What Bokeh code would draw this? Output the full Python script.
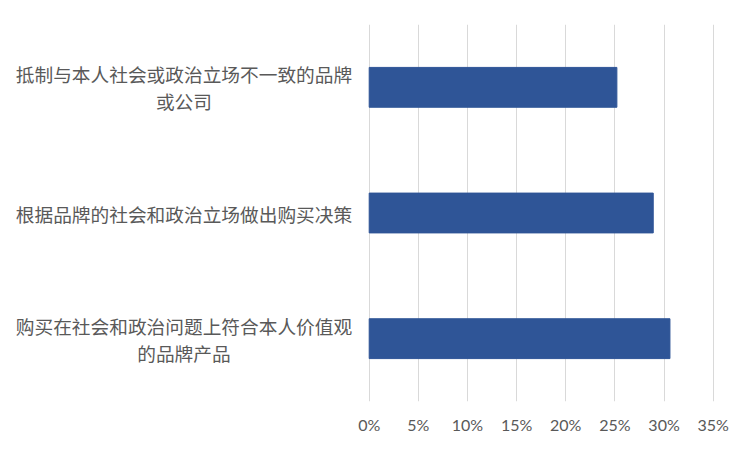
from bokeh.plotting import figure
from bokeh.models import Range1d, FactorRange, FixedTicker, NumeralTickFormatter
from bokeh.core.properties import value
from bokeh.embed import file_html
from bokeh.resources import INLINE

categories = ["抵制与本人社会或政治立场不一致的品牌\n或公司",
              "根据品牌的社会和政治立场做出购买决策",
              "购买在社会和政治问题上符合本人价值观\n的品牌产品"]
values = [0.252, 0.289, 0.306]
x_ticks = [0, 0.05, 0.10, 0.15, 0.20, 0.25, 0.30, 0.35]

# frame spans the full width; the left part (negative x) holds the category labels
p = figure(width=736, height=436, output_backend="svg", toolbar_location=None,
           y_range=FactorRange(factors=list(reversed(categories))),
           x_range=Range1d(-0.37513, 0.35743),
           min_border_left=0, min_border_right=16, min_border_top=24, min_border_bottom=34)

p.hbar(y=categories, right=values, left=0, height=0.317, color="#2F5597")

p.text(x=[-0.18845] * len(categories), y=categories, text=categories,
       text_align="center", text_baseline="middle",
       text_font=value("Noto Sans CJK SC"), text_font_size="18.7px",
       text_color="#595959", text_line_height=1.0)

p.outline_line_color = None
p.background_fill_color = "white"
p.border_fill_color = "white"

p.ygrid.grid_line_color = None
p.yaxis.visible = False
p.xgrid.grid_line_color = "#D9D9D9"
p.xgrid.grid_line_width = 1
p.xaxis.ticker = FixedTicker(ticks=x_ticks)
p.xaxis.formatter = NumeralTickFormatter(format="0%")
p.xaxis.axis_line_color = None
p.xaxis.major_tick_line_color = None
p.xaxis.major_tick_out = 0
p.xaxis.major_tick_in = 0
p.xaxis.minor_tick_line_color = None
p.xaxis.minor_tick_out = 0
p.xaxis.major_label_standoff = 13
p.xaxis.major_label_text_font = "Lato"
p.xaxis.major_label_text_font_size = "16px"
p.xaxis.major_label_text_color = "#595959"

open("out.html", "w").write(file_html(p, INLINE))
